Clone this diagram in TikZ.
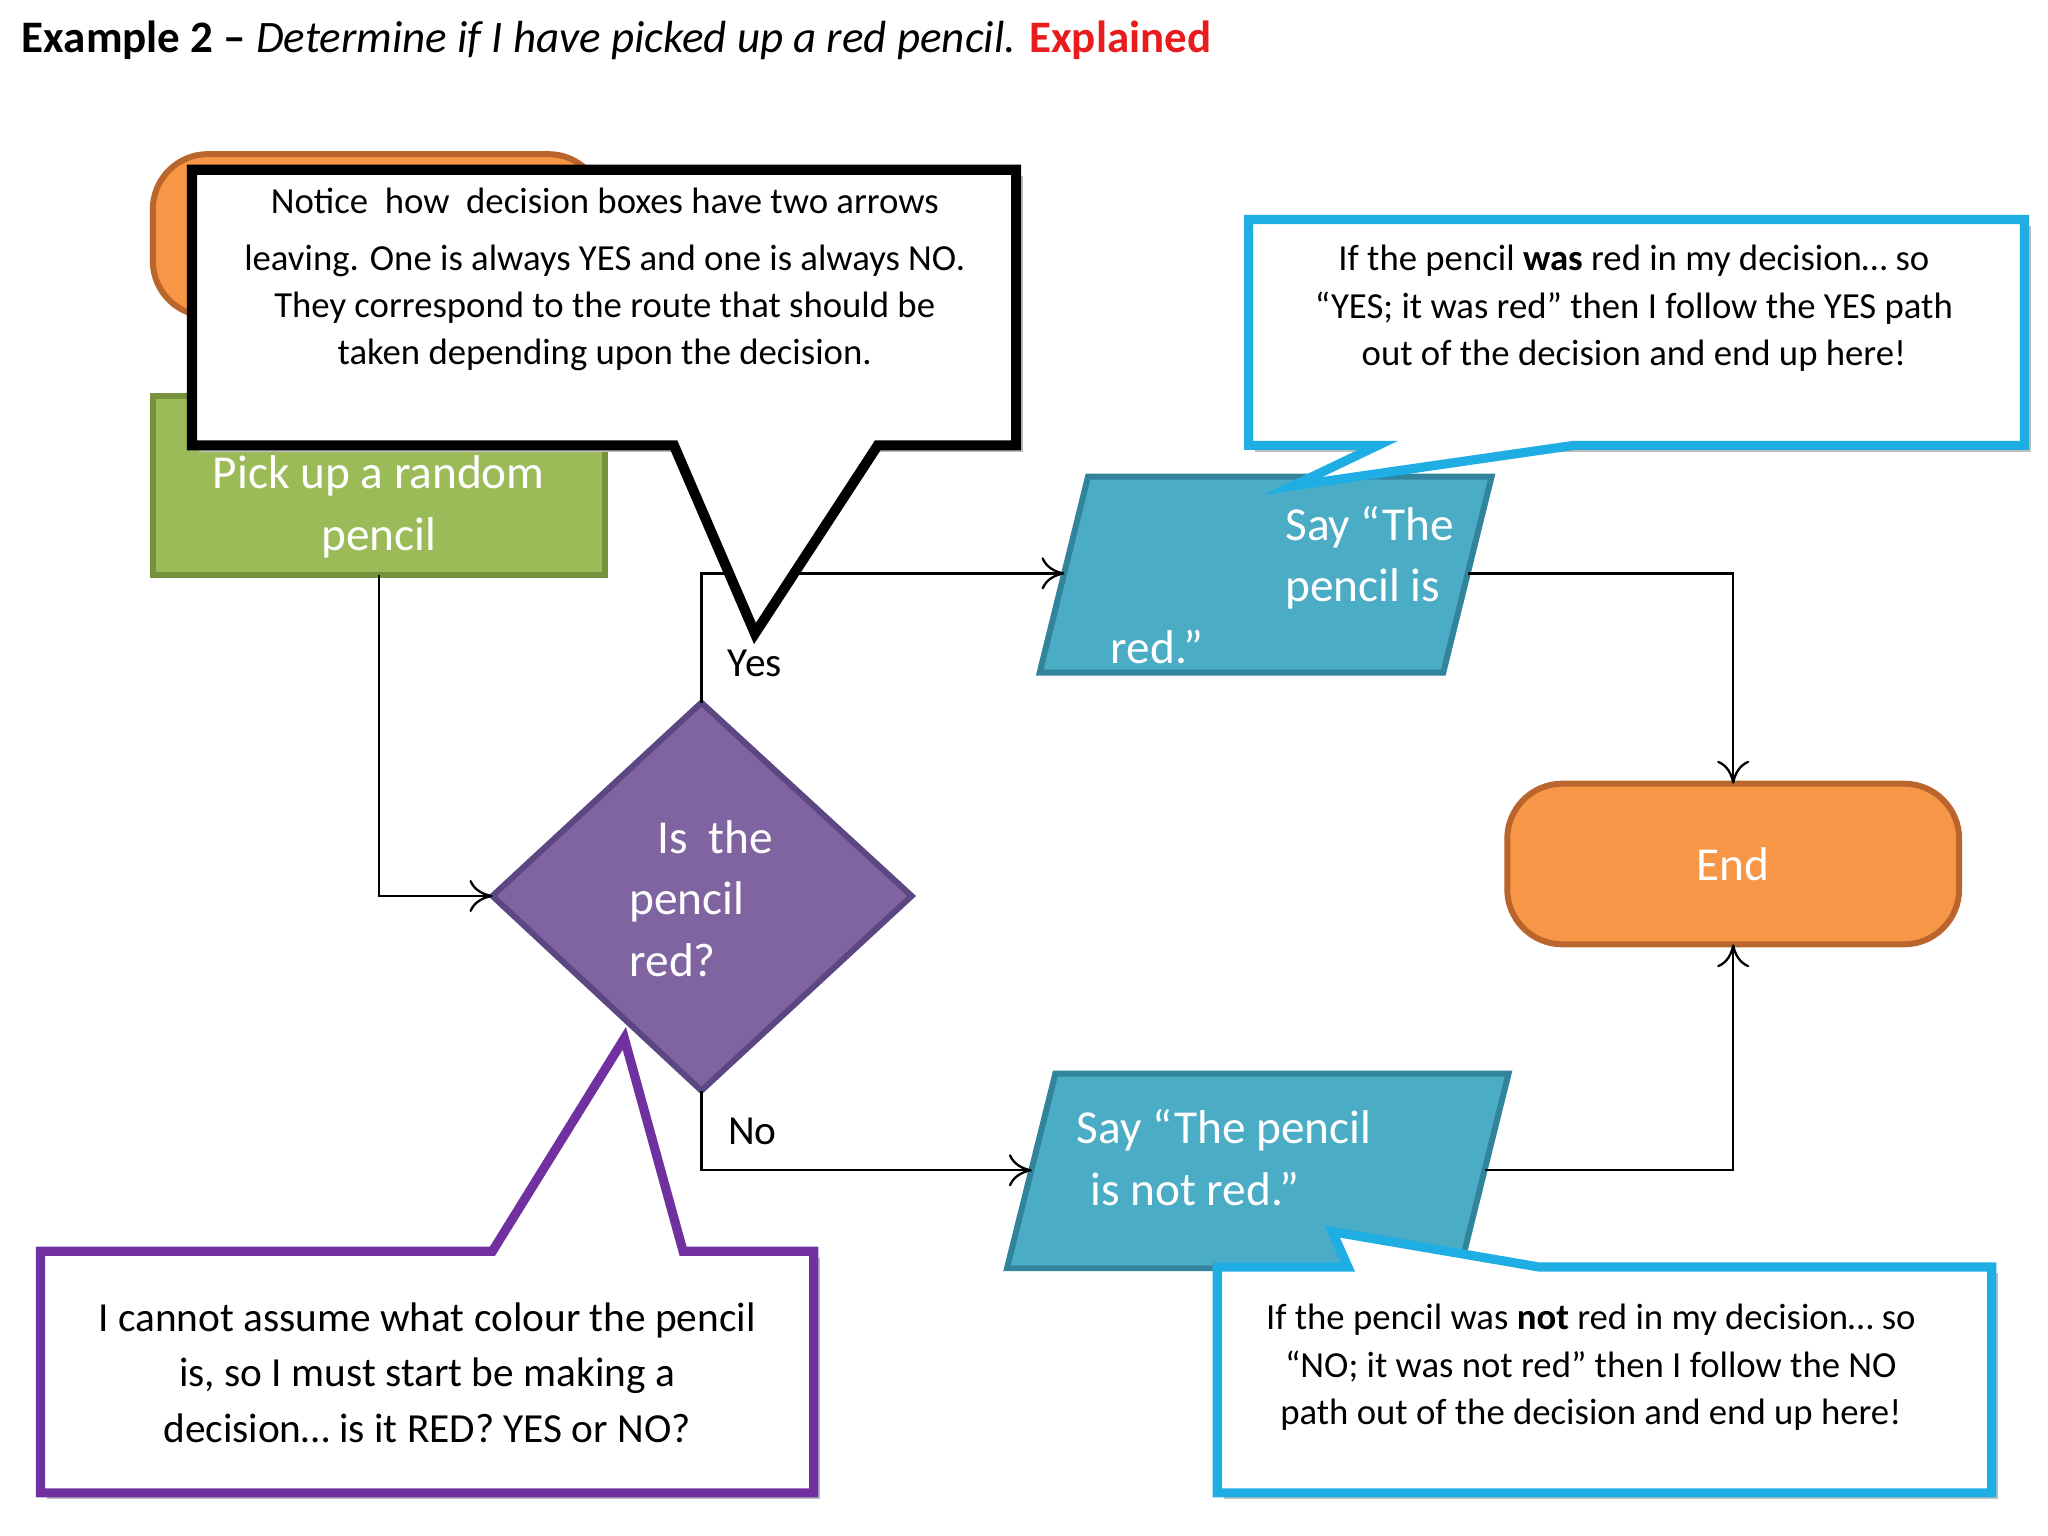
\documentclass[tikz,border=0pt]{standalone}
\usepackage{fontspec}
\setmainfont{Carlito}
\usetikzlibrary{arrows.meta}
\definecolor{orng}{HTML}{F79646}\definecolor{orngb}{HTML}{B9652B}
\definecolor{grn}{HTML}{9BBB59}\definecolor{grnb}{HTML}{76923C}
\definecolor{purp}{HTML}{8064A2}\definecolor{purpb}{HTML}{5C4783}
\definecolor{teal}{HTML}{4BACC6}\definecolor{tealb}{HTML}{31849B}
\definecolor{callb}{HTML}{1FAEE3}\definecolor{callp}{HTML}{7030A0}
\definecolor{titred}{HTML}{E81C1C}
\tikzset{
 conn/.style={draw=black,line width=0.5pt,-{To[length=5pt,width=7pt]}},
 shp/.style={line width=1.3pt},
 bigtxt/.style={text=white,font=\fontsize{10.3pt}{13.4pt}\selectfont,align=center},
 calltxt/.style={font=\fontsize{8pt}{10.3pt}\selectfont,align=center},
 shadowed/.style={fill=black!25,draw=none},
}
\begin{document}
\begin{tikzpicture}[x=0.01cm,y=-0.01cm]
\useasboundingbox (0,0) rectangle (1568,1176);
% title
\node[anchor=west,font=\fontsize{9.8pt}{12pt}\selectfont,inner sep=0] (title) at (16,31)
 {\textbf{Example 2 –} \textit{Determine if I have picked up a red pencil.} \textcolor{titred}{\textbf{Explained}}};
% start box (hidden)
\draw[shp,fill=orng,draw=orngb,rounded corners=12] (117,118) rectangle (462,242);
% green
\draw[shp,fill=grn,draw=grnb] (117,303) rectangle (463,440);
\node[bigtxt] (pick) at (290,388) {Pick up a random\\pencil};
\coordinate (pickS) at (290,440);
% diamond
\draw[shp,fill=purp,draw=purpb] (537,538) -- (698,686) -- (537,835) -- (377,686) -- cycle;
\node[bigtxt,align=left] (dec) at (537,688) {\hspace*{6pt}Is\ \ the\\pencil\\red?};
\coordinate (decT) at (537,538); \coordinate (decL) at (377,686); \coordinate (decB) at (537,835);
% parallelograms
\draw[shp,fill=teal,draw=tealb] (833,365) -- (1142,365) -- (1105,515) -- (796,515) -- cycle;
\node[bigtxt,align=left,anchor=north west] (say1) at (838,375) {\hspace*{38pt}Say “The\\\hspace*{38pt}pencil is\\red.”};
\coordinate (say1W) at (815,439); \coordinate (say1E) at (1124,439);
\draw[shp,fill=teal,draw=tealb] (808,822) -- (1155,822) -- (1118,971) -- (771,971) -- cycle;
\node[bigtxt,align=left,anchor=north west] (say2) at (812,837) {Say “The pencil\\\hspace*{3pt}is not red.”};
\coordinate (say2W) at (790,896); \coordinate (say2E) at (1137,896);
% end
\draw[shp,fill=orng,draw=orngb,rounded corners=12] (1154,600) rectangle (1500,723);
\node[bigtxt] (end) at (1327,662) {End};
\coordinate (endN) at (1327,600); \coordinate (endS) at (1327,723);
% connectors
\draw[conn] (pickS) |- (decL);
\draw[conn] (decT) |- (say1W);
\draw[conn] (say1E) -| (endN);
\draw[conn] (decB) |- (say2W);
\draw[conn] (say2E) -| (endS);
\node[font=\fontsize{9pt}{11pt}\selectfont] (yes) at (578,508) {Yes};
\node[font=\fontsize{9pt}{11pt}\selectfont] (no) at (576,866) {No};
% callout black
\fill[shadowed] (152,135) rectangle (783,346);
\draw[line width=2.2pt,fill=white,line join=miter] (147,130) -- (778,130) -- (778,341) -- (672,341) -- (578,485) -- (516,341) -- (147,341) -- cycle;
\node[calltxt] (c1) at (463,214) {Notice\ \ how\ \ decision boxes have two arrows\\[2pt]leaving. One is always YES and one is always NO.\\They correspond to the route that should be\\taken depending upon the decision.};
% callout blue 1
\fill[shadowed] (961,173) rectangle (1555,346);
\draw[line width=2pt,draw=callb,fill=white] (956,168) -- (1550,168) -- (1550,341) -- (1205,341) -- (990,372) -- (1055,341) -- (956,341) -- cycle;
\node[calltxt] (c2) at (1251,236) {If the pencil \textbf{was} red in my decision… so\\“YES; it was red” then I follow the YES path\\out of the decision and end up here!};
% callout blue 2
\fill[shadowed] (937,975) rectangle (1530,1148);
\draw[line width=2pt,draw=callb,fill=white] (932,970) -- (1032,970) -- (1020,943) -- (1178,970) -- (1525,970) -- (1525,1143) -- (932,1143) -- cycle;
\node[calltxt] (c3) at (1218,1047) {If the pencil was \textbf{not} red in my decision… so\\“NO; it was not red” then I follow the NO\\path out of the decision and end up here!};
% callout purple
\fill[shadowed] (36,963) rectangle (628,1148);
\draw[line width=2pt,draw=callp,fill=white] (31,958) -- (377,958) -- (478,795) -- (523,958) -- (623,958) -- (623,1143) -- (31,1143) -- cycle;
\node[font=\fontsize{9pt}{12.1pt}\selectfont,align=center] (c4) at (327,1051) {I cannot assume what colour the pencil\\is, so I must start be making a\\decision… is it RED? YES or NO?};
\end{tikzpicture}
\end{document}
